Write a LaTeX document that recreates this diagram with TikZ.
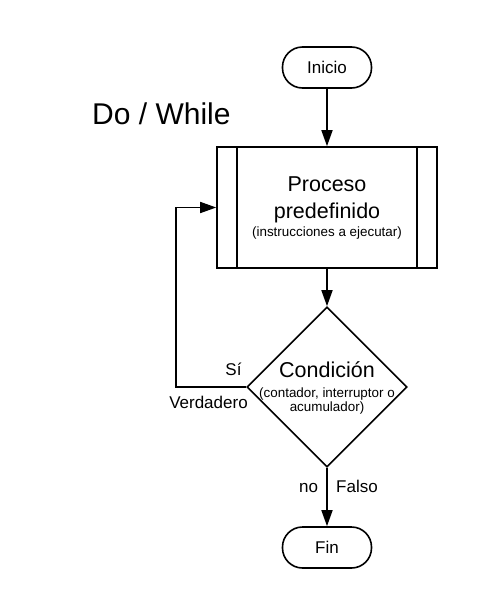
\documentclass[tikz,border=0pt]{standalone}
\usepackage{fontspec}
\setmainfont{Liberation Sans}
\usetikzlibrary{arrows.meta,shapes.geometric}
\begin{document}
\begin{tikzpicture}[x=1pt,y=-1pt,
  lw/.style={line width=1.6pt},
  term/.style={draw,lw,rounded corners=20pt,minimum width=89pt,minimum height=41pt,inner sep=0pt,font=\fontsize{17}{20}\selectfont},
  procbox/.style={draw,lw,minimum width=220pt,minimum height=121pt,inner sep=0pt},
  decis/.style={draw,lw,diamond,aspect=1,minimum width=160pt,minimum height=160pt,inner sep=0pt},
  big/.style={inner sep=0pt,anchor=base,font=\fontsize{21.5}{25}\selectfont},
  small/.style={inner sep=0pt,anchor=base,font=\fontsize{13.4}{16}\selectfont},
  lbl/.style={inner sep=0pt,anchor=base,font=\fontsize{17}{20}\selectfont},
  arr/.style={lw,-{Triangle[length=16pt,width=11pt]}}
]
\useasboundingbox (0,0) rectangle (479,616);

\node[inner sep=0pt,anchor=base west,font=\fontsize{30}{34}\selectfont] (title) at (92,124.5) {Do / While};

\node[term] (inicio) at (327,67.5) {Inicio};
\node[procbox] (box) at (327,207.5) {};
\draw[lw] ([xshift=21pt]box.north west) -- ([xshift=21pt]box.south west);
\draw[lw] ([xshift=-21pt]box.north east) -- ([xshift=-21pt]box.south east);
\node[big] (p1) at (327,191.7) {Proceso};
\node[big] (p2) at (327,218.5) {predefinido};
\node[small] (p3) at (327,236.8) {(instrucciones a ejecutar)};

\node[decis] (dia) at (327,387) {};
\node[big] (c1) at (327,377.3) {Condición};
\node[small] (c2) at (327,397) {(contador, interruptor o};
\node[small] (c3) at (327,411.5) {acumulador)};

\node[term] (fin) at (327,547.5) {Fin};

\coordinate (lp) at (176,387);

\draw[arr] (inicio.south) -- (box.north);
\draw[arr] (box.south) -- (dia.north);
\draw[arr] (dia.south) -- (fin.north);
\draw[arr] (dia.west) -- (lp) |- (box.west);

\node[lbl] (si) at (233.5,375) {Sí};
\node[lbl] (verd) at (208.5,408) {Verdadero};
\node[lbl] (no) at (308.5,492.5) {no};
\node[lbl] (falso) at (357,492.5) {Falso};
\end{tikzpicture}
\end{document}
